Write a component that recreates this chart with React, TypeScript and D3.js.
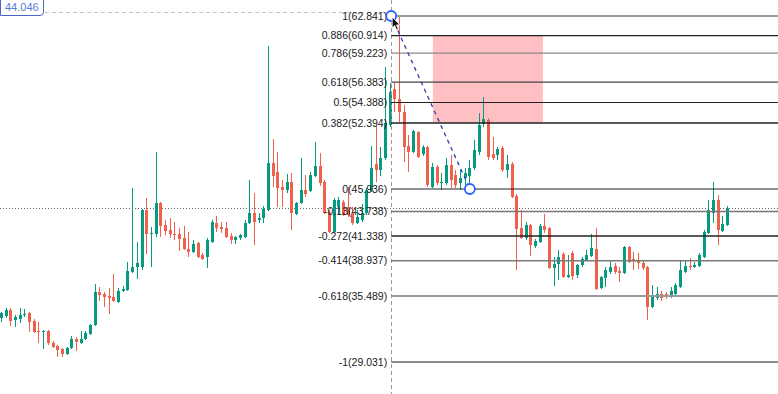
import React, { useEffect, useRef } from 'react';
import * as d3 from 'd3';

// OHLC, one entry per candle (left to right)
const opens = [33.33, 33.53, 34.11, 33.14, 33.24, 33.63, 33.82, 33.04, 32.06, 31.96, 32.06, 30.89, 30.60, 30.30, 29.81, 30.40, 31.28, 30.89, 31.28, 31.77,
  32.65, 35.87, 35.68, 35.48, 35.38, 34.90, 35.97, 36.07, 37.83, 38.31, 38.31, 43.88, 41.54, 41.54, 44.57, 42.42, 41.93, 41.54, 41.54, 41.15,
  40.07, 39.78, 40.66, 39.49, 39.29, 40.76, 42.61, 42.22, 42.12, 41.34, 40.95, 41.15, 41.24, 42.61, 43.59, 42.91, 43.10, 43.88, 48.47, 47.60,
  46.13, 45.84, 46.62, 43.49, 44.57, 45.84, 45.74, 47.20, 48.18, 46.62, 43.69, 41.73, 44.18, 44.66, 44.18, 43.59, 42.61, 42.91, 43.59, 45.74,
  48.38, 47.79, 48.96, 52.19, 55.70, 54.73, 53.46, 50.14, 49.55, 51.50, 49.35, 50.04, 46.13, 48.09, 46.52, 46.52, 48.28, 47.30, 46.52, 47.01,
  47.20, 47.99, 49.55, 52.29, 52.68, 49.35, 49.26, 49.94, 47.79, 48.38, 45.25, 42.12, 41.15, 42.42, 40.37, 40.76, 42.32, 42.12, 38.22, 38.61,
  39.58, 37.34, 39.68, 37.53, 38.51, 39.00, 39.39, 40.07, 36.26, 37.24, 37.83, 38.41, 37.92, 37.73, 40.27, 39.10, 39.00, 38.71, 38.31, 34.41,
  35.29, 35.68, 35.68, 35.38, 35.68, 36.36, 37.83, 38.41, 38.31, 38.41, 39.29, 41.64, 43.59, 44.86, 41.83, 42.42];
const highs = [33.92, 34.31, 34.31, 33.63, 34.31, 34.21, 33.92, 33.24, 32.94, 32.16, 32.16, 31.08, 30.69, 30.40, 30.50, 31.57, 31.47, 32.06, 32.06, 32.75,
  36.65, 36.36, 35.87, 36.26, 37.63, 36.26, 36.46, 38.80, 46.03, 40.76, 43.98, 45.06, 42.22, 49.55, 44.66, 42.91, 43.10, 42.71, 42.12, 42.32,
  41.73, 40.95, 40.76, 39.68, 41.15, 42.91, 43.30, 42.71, 42.71, 41.64, 41.34, 41.54, 42.91, 46.81, 45.54, 43.59, 44.27, 59.91, 50.82, 49.55,
  46.81, 47.40, 47.50, 44.66, 48.96, 47.30, 47.60, 50.53, 49.45, 46.81, 43.88, 45.06, 45.15, 44.86, 46.13, 44.18, 43.88, 44.47, 46.03, 50.14,
  52.09, 50.04, 57.85, 56.29, 56.29, 62.84, 54.14, 51.21, 51.70, 51.60, 50.23, 50.14, 48.47, 48.28, 47.50, 48.96, 49.26, 47.79, 47.79, 47.99,
  48.77, 50.72, 53.36, 54.92, 52.87, 51.02, 50.04, 50.14, 49.26, 48.57, 45.45, 43.88, 42.71, 42.52, 41.05, 42.52, 43.49, 42.22, 39.29, 39.98,
  39.78, 39.49, 39.88, 38.61, 39.29, 39.98, 41.54, 42.12, 37.43, 38.31, 38.90, 38.71, 38.31, 40.37, 40.37, 39.78, 39.68, 39.00, 38.41, 36.55,
  36.36, 35.97, 35.87, 36.36, 36.75, 39.00, 39.00, 39.19, 38.80, 39.68, 41.93, 44.86, 46.62, 45.35, 43.30, 44.27];
const lows = [32.94, 33.33, 32.55, 32.45, 32.84, 33.43, 31.96, 31.87, 30.89, 30.30, 30.69, 30.40, 29.52, 29.52, 29.72, 30.30, 30.11, 30.79, 31.18, 31.67,
  32.55, 35.00, 34.41, 33.72, 34.90, 34.80, 35.87, 35.97, 37.73, 37.14, 38.02, 39.58, 38.31, 41.24, 41.24, 41.44, 41.15, 40.95, 39.88, 39.98,
  39.29, 39.68, 39.19, 39.00, 38.22, 40.66, 41.73, 41.64, 41.15, 40.56, 40.56, 40.95, 41.15, 42.52, 40.46, 42.61, 42.61, 43.79, 46.13, 44.18,
  44.18, 45.54, 41.93, 43.39, 44.47, 45.15, 45.64, 47.11, 46.23, 43.49, 41.64, 41.64, 43.39, 43.30, 43.20, 42.42, 42.52, 42.71, 43.39, 45.64,
  46.62, 47.20, 48.77, 51.99, 53.46, 52.48, 48.57, 47.60, 49.45, 48.96, 49.16, 46.13, 46.03, 46.33, 45.84, 46.33, 46.03, 46.03, 45.84, 46.33,
  46.23, 47.79, 49.26, 51.99, 48.77, 48.77, 48.77, 47.60, 47.01, 45.06, 38.02, 41.05, 40.95, 39.39, 40.17, 40.66, 41.64, 38.12, 36.46, 37.04,
  37.24, 37.24, 37.04, 37.24, 38.31, 38.90, 39.29, 36.07, 36.16, 36.36, 37.63, 37.63, 36.85, 37.63, 38.71, 38.02, 38.12, 38.02, 33.14, 34.31,
  35.09, 35.00, 35.19, 35.29, 35.48, 36.26, 37.73, 38.02, 38.22, 38.31, 39.19, 41.54, 42.61, 40.46, 41.73, 42.32];
const closes = [33.82, 34.11, 33.04, 33.43, 33.63, 33.73, 32.94, 31.96, 31.96, 32.06, 30.89, 30.50, 30.20, 29.81, 30.40, 31.28, 30.99, 31.28, 31.87, 32.65,
  35.87, 35.58, 35.38, 35.29, 35.00, 35.97, 36.16, 37.92, 38.31, 38.71, 43.88, 41.54, 41.64, 44.57, 42.32, 41.83, 41.54, 41.44, 41.05, 40.07,
  39.78, 40.56, 39.29, 39.10, 40.95, 42.71, 42.12, 42.03, 41.24, 40.95, 41.24, 41.44, 42.61, 43.59, 42.71, 43.10, 43.98, 48.47, 47.20, 46.03,
  45.84, 46.62, 43.59, 44.57, 45.84, 45.45, 47.30, 48.18, 46.52, 43.59, 41.73, 44.86, 44.86, 43.39, 43.39, 42.61, 43.20, 43.59, 45.84, 47.99,
  47.79, 48.96, 52.38, 55.41, 54.73, 53.46, 50.04, 49.55, 51.60, 49.06, 50.04, 46.33, 48.09, 46.52, 46.62, 48.28, 46.81, 46.33, 47.01, 47.50,
  47.99, 49.75, 52.19, 52.77, 49.06, 48.96, 49.84, 47.79, 48.38, 45.15, 42.03, 41.15, 42.42, 40.46, 40.86, 42.32, 41.93, 38.22, 38.61, 39.29,
  37.34, 37.53, 37.43, 38.51, 39.10, 39.49, 40.17, 36.16, 37.34, 38.02, 38.31, 37.83, 37.73, 40.27, 38.80, 38.90, 38.71, 38.22, 34.41, 35.38,
  35.68, 35.29, 35.38, 35.97, 36.55, 38.02, 38.41, 38.31, 38.51, 39.49, 41.73, 43.88, 44.86, 41.93, 42.52, 44.05];

// fibonacci retracement
const fibLevels = [1, 0.886, 0.786, 0.618, 0.5, 0.382, 0, -0.13, -0.272, -0.414, -0.618, -1];
const fibPrices = [62.841, 60.914, 59.223, 56.383, 54.388, 52.394, 45.936, 43.738, 41.338, 38.937, 35.489, 29.031];
const fibColors = ['#9a9a9a', '#222', '#8a8a8a', '#444', '#222', '#222', '#222', '#777', '#222', '#7a7a7a', '#9a9a9a', '#666'];
const fibWidths = [2, 1.2, 1.2, 1.2, 1.2, 1.5, 1.2, 1.5, 1.5, 1.5, 2, 1.5];

// drawings, in candle index / price
const trendFrom = [83.3, 62.841];
const trendTo = [100.1, 45.936];
const zoneIdx = [92.2, 115.7];
const zonePrices = [60.914, 52.394];
const crossIdx = 83.3;
const crossPrice = 63.23;
const lastPrice = 44.046;

const W = 778, H = 394;
const UP = '#089981', DOWN = '#f0604d';

export default function App() {
  const ref = useRef<SVGSVGElement>(null);

  useEffect(() => {
    const svg = d3.select(ref.current);
    svg.selectAll('*').remove();

    const x = d3.scaleLinear().domain([0, 155]).range([1, 727]);
    const y = d3.scaleLinear().domain([29.031, 62.841]).range([362, 16]);
    const idx = d3.range(opens.length);

    // pink zone
    svg.append('rect')
      .attr('x', x(zoneIdx[0])).attr('y', y(zonePrices[0]))
      .attr('width', x(zoneIdx[1]) - x(zoneIdx[0]))
      .attr('height', y(zonePrices[1]) - y(zonePrices[0]))
      .attr('fill', '#ffc0c3');

    // last price dotted line
    svg.append('line')
      .attr('x1', 0).attr('x2', W)
      .attr('y1', Math.round(y(lastPrice)) + 0.5).attr('y2', Math.round(y(lastPrice)) + 0.5)
      .attr('stroke', '#666').attr('stroke-dasharray', '1,2');

    // candles
    const g = svg.append('g');
    const c = g.selectAll('g.c').data(idx).enter().append('g')
      .attr('fill', d => (closes[d] >= opens[d] ? UP : DOWN))
      .attr('stroke', d => (closes[d] >= opens[d] ? UP : DOWN));
    c.append('line')
      .attr('x1', d => Math.round(x(d)) + 0.5).attr('x2', d => Math.round(x(d)) + 0.5)
      .attr('y1', d => y(highs[d])).attr('y2', d => y(lows[d]))
      .attr('stroke-width', 1);
    c.append('rect')
      .attr('x', d => Math.round(x(d)) - 1)
      .attr('width', 3)
      .attr('y', d => y(Math.max(opens[d], closes[d])))
      .attr('height', d => Math.max(1, Math.abs(y(opens[d]) - y(closes[d]))))
      .attr('stroke', 'none');

    // crosshair
    svg.append('line')
      .attr('x1', Math.round(x(crossIdx)) + 0.5).attr('x2', Math.round(x(crossIdx)) + 0.5)
      .attr('y1', 0).attr('y2', H)
      .attr('stroke', '#9a9a9a').attr('stroke-dasharray', '4,3');
    svg.append('line')
      .attr('x1', 45).attr('x2', x(crossIdx))
      .attr('y1', Math.round(y(crossPrice)) + 0.5).attr('y2', Math.round(y(crossPrice)) + 0.5)
      .attr('stroke', '#c4c4c4').attr('stroke-dasharray', '4,3');

    // fib lines and labels
    const fx = x(trendFrom[0]);
    fibLevels.forEach((lv, i) => {
      const yy = y(fibPrices[i]);
      svg.append('line')
        .attr('x1', fx).attr('x2', W).attr('y1', yy).attr('y2', yy)
        .attr('stroke', fibColors[i]).attr('stroke-width', fibWidths[i]);
      svg.append('text')
        .attr('x', fx - 4).attr('y', yy).attr('dy', '0.35em')
        .attr('text-anchor', 'end')
        .attr('font-family', 'Liberation Sans, Arial, sans-serif')
        .attr('font-size', 10.5)
        .attr('fill', '#1a1a1a')
        .text(`${lv}(${fibPrices[i].toFixed(3)})`);
    });

    // trend line
    svg.append('line')
      .attr('x1', x(trendFrom[0])).attr('y1', y(trendFrom[1]))
      .attr('x2', x(trendTo[0])).attr('y2', y(trendTo[1]))
      .attr('stroke', '#2b3fb5').attr('stroke-width', 1.3).attr('stroke-dasharray', '4,4');
    [trendFrom, trendTo].forEach(p => {
      svg.append('circle')
        .attr('cx', x(p[0])).attr('cy', y(p[1])).attr('r', 5)
        .attr('fill', 'white').attr('stroke', '#2962ff').attr('stroke-width', 1.8);
    });

    // mouse pointer
    const px = x(trendFrom[0]) + 1, py = y(trendFrom[1]) + 1;
    svg.append('path')
      .attr('d', `M${px},${py} l0,11 l2.5,-2.5 l2,4.5 l1.8,-0.8 l-2,-4.3 l3.5,0 Z`)
      .attr('fill', '#111').attr('stroke', 'white').attr('stroke-width', 0.8);

    // price tag at top-left
    svg.append('path')
      .attr('d', 'M0.5,-1 L43.5,-1 L43.5,12 Q43.5,15.5 40,15.5 L0.5,15.5 Z')
      .attr('fill', 'white').attr('stroke', '#4a66c8').attr('stroke-width', 1);
    svg.append('text')
      .attr('x', 5).attr('y', 11)
      .attr('font-family', 'Liberation Sans, Arial, sans-serif')
      .attr('font-size', 11)
      .attr('fill', '#5b79d6')
      .text(lastPrice.toFixed(3));
  }, []);

  return (
    <svg ref={ref} width={W} height={H}
      style={{ position: 'fixed', left: 0, top: 0, background: 'white' }} />
  );
}
